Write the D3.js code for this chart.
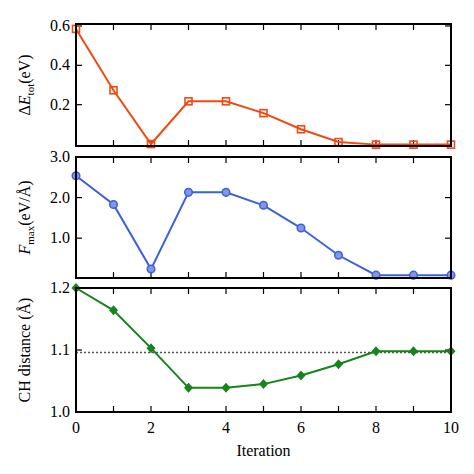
<!DOCTYPE html>
<html><head><meta charset="utf-8">
<script src="https://cdn.jsdelivr.net/npm/d3@7"></script>
<style>body{margin:0;background:#fff}</style>
</head><body><svg id="c" width="474" height="474" font-family="'Liberation Serif','DejaVu Serif',serif"></svg>
<script>
const iterations=[0,1,2,3,4,5,6,7,8,9,10];
const dEtot=[0.585,0.273,0.0,0.217,0.217,0.157,0.075,0.01,-0.003,-0.003,-0.003];
const fmax=[2.54,1.83,0.24,2.13,2.13,1.81,1.25,0.58,0.09,0.09,0.09];
const chDist=[1.2,1.164,1.103,1.039,1.039,1.045,1.059,1.077,1.098,1.098,1.098];
const chRef=1.096;
const xTicks=[0,2,4,6,8,10];
const svg=d3.select("#c");
const x=d3.scaleLinear().domain([0,10]).range([76,451]);
const panels=[
 {data:dEtot,dom:[-0.01,0.61],rng:[146,24],ticks:[0.2,0.4,0.6],fmt:d3.format(".1f"),color:"#f04a12",marker:"square",pre:"Δ",label:"E",sub:"tot",unit:"(eV)"},
 {data:fmax,dom:[0.02,3.0],rng:[278,157],ticks:[1.0,2.0,3.0],fmt:d3.format(".1f"),color:"#3d62d8",marker:"circle",pre:"",label:"F",sub:"max",unit:"(eV/Å)"},
 {data:chDist,dom:[1.0,1.2],rng:[412,288],ticks:[1.0,1.1,1.2],fmt:d3.format(".1f"),color:"#15841a",marker:"diamond",label:"CH distance (Å)",ref:chRef}
];
panels.forEach((p,i)=>{
 const y=d3.scaleLinear().domain(p.dom).range(p.rng);
 const g=svg.append("g");
 const [x0,x1]=x.range(), yb=p.rng[0], yt=p.rng[1];
 const xt=d3.range(0,11,1);
 xt.forEach(v=>{g.append("line").attr("x1",x(v)).attr("x2",x(v)).attr("y1",yb).attr("y2",yb-6).attr("stroke","#000").attr("stroke-width",1.2);
  g.append("line").attr("x1",x(v)).attr("x2",x(v)).attr("y1",yt).attr("y2",yt+6).attr("stroke","#000").attr("stroke-width",1.2);});
 p.ticks.forEach(v=>{const yy=y(v);
  g.append("line").attr("x1",x0).attr("x2",x0+6).attr("y1",yy).attr("y2",yy).attr("stroke","#000").attr("stroke-width",1.2);
  g.append("line").attr("x1",x1).attr("x2",x1-6).attr("y1",yy).attr("y2",yy).attr("stroke","#000").attr("stroke-width",1.2);
  g.append("text").attr("x",x0-6).attr("y",yy+5).attr("text-anchor","end").attr("font-size",16).text(p.fmt(v));});
 if(p.ref!==undefined){g.append("line").attr("x1",x0).attr("x2",x1).attr("y1",y(p.ref)).attr("y2",y(p.ref)).attr("stroke","#555").attr("stroke-width",1.5).attr("stroke-dasharray","2,2");}
 const line=d3.line().x((d,j)=>x(iterations[j])).y(d=>y(d));
 g.append("path").attr("d",line(p.data)).attr("fill","none").attr("stroke",p.color).attr("stroke-width",2);
 p.data.forEach((d,j)=>{const cx=x(iterations[j]),cy=y(d);
  if(p.marker==="square")g.append("rect").attr("x",cx-3.5).attr("y",cy-3.5).attr("width",7).attr("height",7).attr("fill","none").attr("stroke",p.color).attr("stroke-width",1.6);
  else if(p.marker==="circle")g.append("circle").attr("cx",cx).attr("cy",cy).attr("r",3.8).attr("fill","#7f97e6").attr("stroke",p.color).attr("stroke-width",1.5);
  else g.append("path").attr("d",`M${cx},${cy-5}L${cx+4.5},${cy}L${cx},${cy+5}L${cx-4.5},${cy}Z`).attr("fill",p.color);
 });
 g.append("rect").attr("x",x0).attr("y",yt).attr("width",x1-x0).attr("height",yb-yt).attr("fill","none").attr("stroke","#000").attr("stroke-width",2);
 const lx=30, ly=(yt+yb)/2;
 const t=g.append("text").attr("transform",`translate(${lx},${ly}) rotate(-90)`).attr("text-anchor","middle").attr("font-size",16);
 if(p.sub){ if(p.pre)t.append("tspan").text(p.pre);
  t.append("tspan").attr("font-style","italic").text(p.label);
  t.append("tspan").attr("font-size",11).attr("dy",4).text(p.sub);
  t.append("tspan").attr("dy",-4).text(p.unit);}
 else t.text(p.label);
});
xTicks.forEach(v=>svg.append("text").attr("x",x(v)).attr("y",433).attr("text-anchor","middle").attr("font-size",16).text(v));
svg.append("text").attr("x",(x(0)+x(10))/2).attr("y",456).attr("text-anchor","middle").attr("font-size",16).text("Iteration");
</script></body></html>
